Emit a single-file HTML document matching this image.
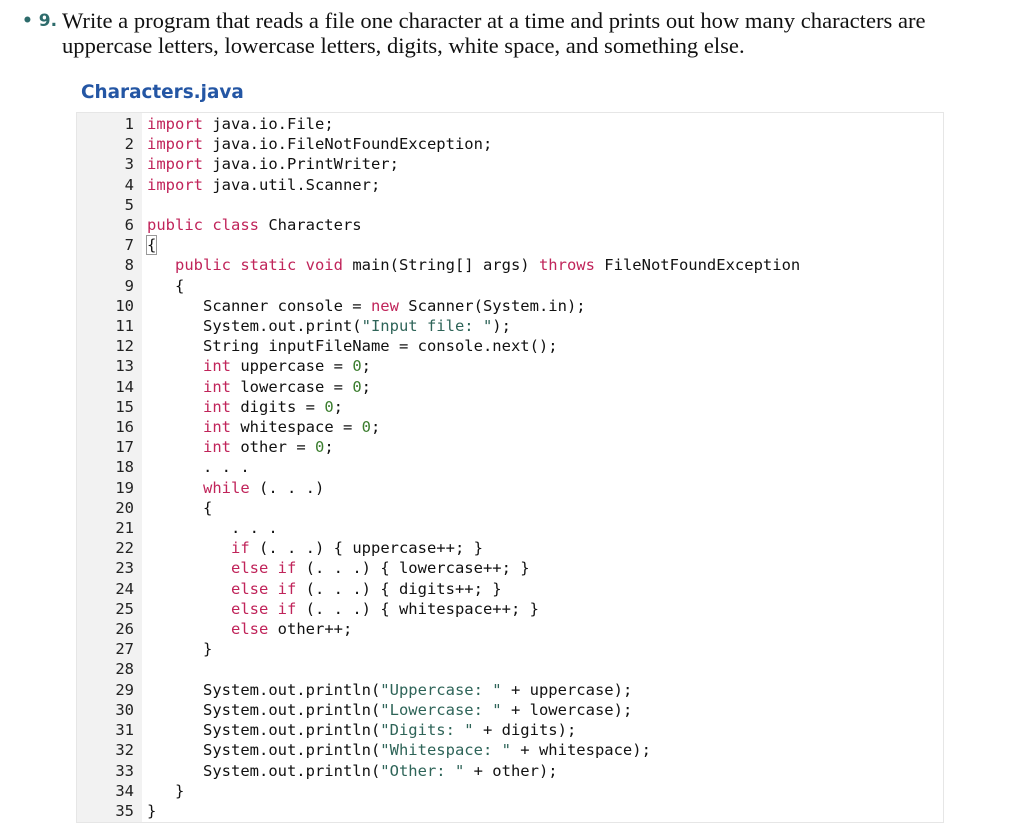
<!DOCTYPE html>
<html><head><meta charset="utf-8"><style>
body{margin:0;background:#fff;width:1024px;height:836px;position:relative;overflow:hidden}
.q{position:absolute;left:62px;font-family:"Liberation Serif",serif;font-size:22.6px;color:#111;white-space:nowrap;line-height:25px}
.num{position:absolute;left:22px;top:11px;font-family:"DejaVu Sans",sans-serif;font-weight:bold;font-size:17px;color:#2d6b6b}
.title{position:absolute;left:81px;top:82px;font-family:"DejaVu Sans",sans-serif;font-weight:bold;font-size:18.4px;color:#2456a4}
.box{position:absolute;left:76px;top:112px;width:866px;height:709px;border:1px solid #e6e6e6;background:#fff}
.gut{position:absolute;left:0;top:0;width:65px;height:100%;background:#f2f2f2}
pre{margin:0;position:absolute;top:1px;font-family:"DejaVu Sans Mono",monospace;font-size:15.5px;line-height:20.2px;color:#111}
.ln{left:0;width:57px;text-align:right;color:#222}
.code{left:70px}
.k{color:#c0245a}.s{color:#2e6458}.n{color:#3b7d2e}
.br{outline:1px solid #999}
</style></head><body>
<div class="num">• 9.</div>
<div class="q" style="top:8px">Write a program that reads a file one character at a time and prints out how many characters are</div>
<div class="q" style="top:33px">uppercase letters, lowercase letters, digits, white space, and something else.</div>
<div class="title">Characters.java</div>
<div class="box"><div class="gut"></div>
<pre class="ln">1
2
3
4
5
6
7
8
9
10
11
12
13
14
15
16
17
18
19
20
21
22
23
24
25
26
27
28
29
30
31
32
33
34
35</pre>
<pre class="code"><span class="k">import</span> java.io.File;
<span class="k">import</span> java.io.FileNotFoundException;
<span class="k">import</span> java.io.PrintWriter;
<span class="k">import</span> java.util.Scanner;

<span class="k">public class</span> Characters
<span class="br">{</span>
   <span class="k">public static void</span> main(String[] args) <span class="k">throws</span> FileNotFoundException
   {
      Scanner console = <span class="k">new</span> Scanner(System.in);
      System.out.print(<span class="s">"Input file: "</span>);
      String inputFileName = console.next();
      <span class="k">int</span> uppercase = <span class="n">0</span>;
      <span class="k">int</span> lowercase = <span class="n">0</span>;
      <span class="k">int</span> digits = <span class="n">0</span>;
      <span class="k">int</span> whitespace = <span class="n">0</span>;
      <span class="k">int</span> other = <span class="n">0</span>;
      . . .
      <span class="k">while</span> (. . .)
      {
         . . .
         <span class="k">if</span> (. . .) { uppercase++; }
         <span class="k">else if</span> (. . .) { lowercase++; }
         <span class="k">else if</span> (. . .) { digits++; }
         <span class="k">else if</span> (. . .) { whitespace++; }
         <span class="k">else</span> other++;
      }

      System.out.println(<span class="s">"Uppercase: "</span> + uppercase);
      System.out.println(<span class="s">"Lowercase: "</span> + lowercase);
      System.out.println(<span class="s">"Digits: "</span> + digits);
      System.out.println(<span class="s">"Whitespace: "</span> + whitespace);
      System.out.println(<span class="s">"Other: "</span> + other);
   }
}</pre>
</div>
</body></html>
